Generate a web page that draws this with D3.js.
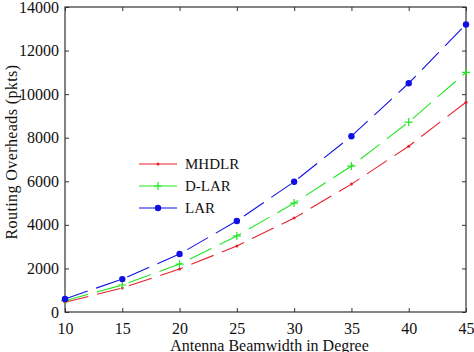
<!DOCTYPE html>
<html>
<head>
<meta charset="utf-8">
<script src="https://cdn.jsdelivr.net/npm/d3@7"></script>
<style>
  html, body { margin: 0; padding: 0; background: #fff; }
  #chart { width: 474px; height: 352px; overflow: hidden; }
  text { font-family: "Liberation Serif", "Times New Roman", serif; fill: #111; }
</style>
</head>
<body>
<div id="chart"></div>
<script>
// Routing overheads vs antenna beamwidth, three protocols.
var beamwidth = [10, 15, 20, 25, 30, 35, 40, 45];
var mhdlr = [450, 1100, 1970, 3030, 4310, 5870, 7610, 9630];
var dlar  = [520, 1240, 2200, 3490, 5000, 6700, 8720, 11000];
var lar   = [600, 1510, 2660, 4180, 5980, 8070, 10500, 13200];

var xTicks = [10, 15, 20, 25, 30, 35, 40, 45];
var yTicks = [0, 2000, 4000, 6000, 8000, 10000, 12000, 14000];

var seriesList = [
    { name: 'MHDLR', values: mhdlr, color: '#e8202a', marker: 'dot' },
    { name: 'D-LAR', values: dlar,  color: '#22e622', marker: 'plus' },
    { name: 'LAR',   values: lar,   color: '#1010e6', marker: 'circle' }
];

(function () {
    var W = 474, H = 352;
    var margin = { top: 7, right: 8, bottom: 40, left: 65 };
    var innerW = W - margin.left - margin.right;
    var innerH = H - margin.top - margin.bottom;

    var svg = d3.select('#chart').append('svg')
        .attr('width', W).attr('height', H);
    var g = svg.append('g')
        .attr('transform', 'translate(' + margin.left + ',' + margin.top + ')');

    var x = d3.scaleLinear().domain([10, 45]).range([0, innerW]);
    var y = d3.scaleLinear().domain([0, 14000]).range([innerH, 0]);

    var axisColor = '#333';
    var tickLen = 4;

    // frame
    g.append('rect')
        .attr('x', 0).attr('y', 0).attr('width', innerW).attr('height', innerH)
        .attr('fill', 'none').attr('stroke', axisColor).attr('stroke-width', 1.2);

    // inward ticks on all four sides
    function styleAxis(ax) {
        ax.select('.domain').remove();
        ax.selectAll('.tick line').attr('stroke', axisColor).attr('stroke-width', 1);
        ax.selectAll('.tick text')
            .style('font-family', '"Liberation Serif", "Times New Roman", serif')
            .style('font-size', '16px').attr('fill', '#111');
    }
    var xb = g.append('g').attr('transform', 'translate(0,' + innerH + ')')
        .call(d3.axisBottom(x).tickValues(xTicks).tickSize(-tickLen).tickPadding(8)
            .tickFormat(d3.format('d')));
    styleAxis(xb);
    xb.selectAll('.tick text').attr('dy', '0.85em');
    var xt = g.append('g')
        .call(d3.axisTop(x).tickValues(xTicks).tickSize(-tickLen).tickFormat(''));
    styleAxis(xt);
    var yl = g.append('g')
        .call(d3.axisLeft(y).tickValues(yTicks).tickSize(-tickLen).tickPadding(6)
            .tickFormat(d3.format('d')));
    styleAxis(yl);
    var yr = g.append('g').attr('transform', 'translate(' + innerW + ',0)')
        .call(d3.axisRight(y).tickValues(yTicks).tickSize(-tickLen).tickFormat(''));
    styleAxis(yr);

    var line = d3.line()
        .x(function (d, i) { return x(beamwidth[i]); })
        .y(function (d) { return y(d); });

    function drawMarker(sel, s, cx, cy) {
        if (s.marker === 'circle') {
            sel.append('circle').attr('cx', cx).attr('cy', cy).attr('r', 3.2)
                .attr('fill', s.color);
        } else if (s.marker === 'plus') {
            sel.append('path')
                .attr('d', 'M' + (cx - 4) + ',' + cy + 'H' + (cx + 4) +
                           'M' + cx + ',' + (cy - 4) + 'V' + (cy + 4))
                .attr('stroke', s.color).attr('stroke-width', 1.2);
        } else {
            sel.append('circle').attr('cx', cx).attr('cy', cy).attr('r', 1.5)
                .attr('fill', s.color);
        }
    }

    seriesList.forEach(function (s) {
        g.append('path').datum(s.values)
            .attr('d', line)
            .attr('fill', 'none')
            .attr('stroke', s.color)
            .attr('stroke-width', 1.1)
            .attr('stroke-dasharray', '24 9');
        s.values.forEach(function (v, i) {
            drawMarker(g, s, x(beamwidth[i]), y(v));
        });
    });

    // legend, no box
    var lx = 139, ly = 164, rowH = 22;
    seriesList.forEach(function (s, i) {
        var yy = ly + i * rowH;
        svg.append('line')
            .attr('x1', lx).attr('x2', lx + 38)
            .attr('y1', yy).attr('y2', yy)
            .attr('stroke', s.color).attr('stroke-width', 1.1);
        drawMarker(svg, s, lx + 19, yy);
        svg.append('text')
            .attr('x', lx + 46).attr('y', yy).attr('dy', '0.35em')
            .style('font-size', '15px')
            .text(s.name);
    });

    // axis titles
    svg.append('text')
        .attr('transform', 'translate(17,152) rotate(-90)')
        .attr('text-anchor', 'middle')
        .style('font-size', '16px')
        .style('letter-spacing', '0.4px')
        .text('Routing Overheads (pkts)');
    svg.append('text')
        .attr('x', margin.left + innerW / 2 + 4).attr('y', H - 1)
        .attr('text-anchor', 'middle')
        .style('font-size', '16px')
        .text('Antenna Beamwidth in Degree');
})();
</script>
</body>
</html>
